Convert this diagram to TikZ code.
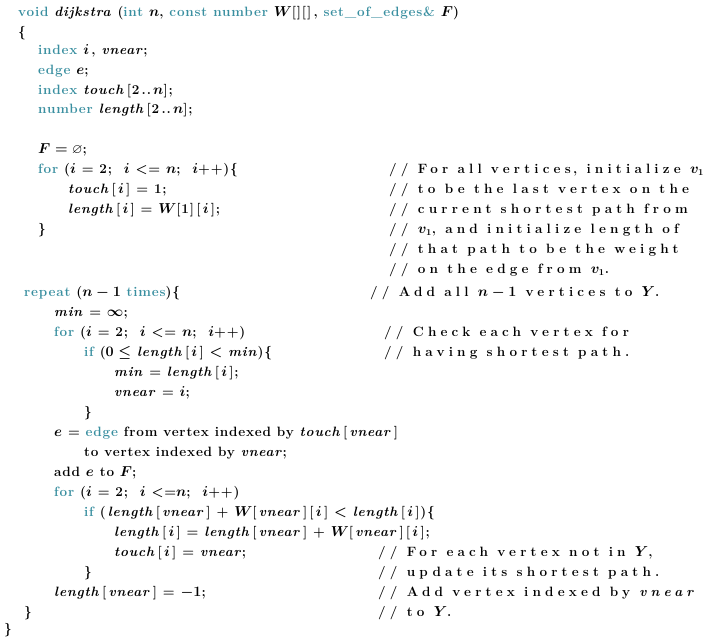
\documentclass[tikz,border=0pt]{standalone}
\usepackage{amssymb}
\usepackage{fontspec}
\setmainfont{Latin Modern Roman}[LetterSpace=6]
\newfontfamily\cmtfont{Latin Modern Roman}[LetterSpace=31]
\definecolor{kw}{HTML}{3A8FA0}
\newcommand{\kw}[1]{\textcolor{kw}{#1}}
\newcommand{\vv}[1]{\textit{#1}}
\tikzset{code/.style={anchor=west,inner sep=0pt,font=\fontsize{13.5}{15}\selectfont\bfseries\boldmath},
 cmt/.style={code,font=\fontsize{13.5}{15}\cmtfont\bfseries\boldmath}}
\begin{document}
\begin{tikzpicture}[x=1pt,y=-1pt,every node/.style={code}]
\useasboundingbox (0,0) rectangle (703,643);
\node (l1) at (18,13) {\kw{void} \vv{dijkstra} (\kw{int} $n$, \kw{const number} $W$[][]\,, \kw{set\_of\_edges\&} $F$)};
\node (l2) at (18,33) {\{};
\node (l3) at (38,51) {\kw{index} $i$\,, \vv{vnear};};
\node (l4) at (38,71) {\kw{edge} $e$;};
\node (l5) at (38,91) {\kw{index} \vv{touch}\,[2\,..\,$n$];};
\node (l6) at (38,110) {\kw{number} \vv{length}\,[2\,..\,$n$];};
\node (l7) at (38,150) {$F=\varnothing$;};
\node (l8) at (38,170) {\kw{for} ($i$ = 2;\ \ $i$ <= $n$;\ \ $i$++)\{};
\node (l9) at (68,190) {\vv{touch}\,[\,$i$\,] = 1;};
\node (l10) at (68,210) {\vv{length}\,[\,$i$\,] = $W$[1]\,[\,$i$\,];};
\node (l11) at (38,230) {\}};
\node[cmt] (c1) at (389,170) {// For all vertices\,, initialize $v_1$};
\node[cmt] (c2) at (389,190) {// to be the last vertex on the};
\node[cmt] (c3) at (389,210) {// current shortest path from};
\node[cmt] (c4) at (389,230) {// $v_1$, and initialize length of};
\node[cmt] (c5) at (389,250) {// that path to be the weight};
\node[cmt] (c6) at (389,270) {// on the edge from $v_1$.};
\node (l12) at (24,293) {\kw{repeat} ($n-1$ \kw{times})\{};
\node[cmt] (c7) at (370,293) {// Add all $n-1$ vertices to $Y$.};
\node (l13) at (54,313) {\vv{min} = $\infty$;};
\node (l14) at (54,333) {\kw{for} ($i$ = 2;\ \ $i$ <= $n$;\ \ $i$++)};
\node[cmt] (c8) at (384,333) {// Check each vertex for};
\node (l15) at (84,353) {\kw{if} ($0\le$ \vv{length}\,[\,$i$\,] $<$ \vv{min})\{};
\node[cmt] (c9) at (384,353) {// having shortest path.};
\node (l16) at (114,373) {\vv{min} = \vv{length}\,[\,$i$\,];};
\node (l17) at (114,393) {\vv{vnear} = $i$;};
\node (l18) at (84,413) {\}};
\node (l19) at (54,433) {$e$ = \kw{edge} from vertex indexed by \vv{touch}\,[\,\vv{vnear}\,]};
\node (l20) at (84,453) {to vertex indexed by \vv{vnear};};
\node (l21) at (54,473) {add $e$ to $F$;};
\node (l22) at (54,493) {\kw{for} ($i$ = 2;\ \ $i$ <=$n$;\ \ $i$++)};
\node (l23) at (84,513) {\kw{if} (\,\vv{length}\,[\,\vv{vnear}\,] + $W$[\,\vv{vnear}\,]\,[\,$i$\,] $<$ \vv{length}\,[\,$i$\,])\{};
\node (l24) at (114,533) {\vv{length}\,[\,$i$\,] = \vv{length}\,[\,\vv{vnear}\,] + $W$[\,\vv{vnear}\,]\,[\,$i$\,];};
\node (l25) at (114,553) {\vv{touch}\,[\,$i$\,] = \vv{vnear};};
\node[cmt] (c10) at (378,553) {// For each vertex not in $Y$,};
\node (l26) at (84,573) {\}};
\node[cmt] (c11) at (378,573) {// update its shortest path.};
\node (l27) at (54,593) {\vv{length}\,[\,\vv{vnear}\,] = $-1$;};
\node[cmt] (c12) at (378,593) {// Add vertex indexed by \vv{vnear}};
\node (l28) at (24,613) {\}};
\node[cmt] (c13) at (378,613) {// to $Y$.};
\node (l29) at (4,630) {\}};
\end{tikzpicture}
\end{document}
